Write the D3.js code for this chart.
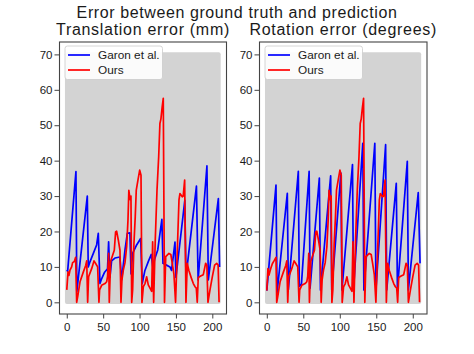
<!DOCTYPE html>
<html>
<head>
<meta charset="utf-8">
<script src="https://cdn.jsdelivr.net/npm/d3@7"></script>
<style>
  body { margin: 0; background: #fff; }
  text { font-family: "Liberation Sans", Arial, sans-serif; fill: #1a1a1a; }
</style>
</head>
<body>
<svg id="chart"></svg>
<script>
// values (frame index, error)
const transGaronX = [0, 1.2, 12.6, 13.8, 28.2, 29.5, 32, 36.5, 41, 43.3, 45.6, 48, 52, 56, 57.5, 59.3, 61.6, 66.2, 73, 75.4, 80, 83.2, 86.8, 88.3, 90.5, 96, 101.5, 103.7, 107.4, 112, 116, 118.5, 120.5, 125, 130.7, 132.2, 137, 141.8, 144, 148.7, 150, 162.2, 163.8, 178.2, 180.5, 192.6, 194.5, 208.3, 210];
const transGaronY = [9.1, 8.8, 36.9, 3, 30, 10, 11.5, 13.8, 16.2, 19.5, 5.3, 6.7, 8.5, 9.5, 17.1, 7, 11.7, 12.5, 12.8, 6.3, 14.8, 19.5, 19.6, 8, 13.8, 16.2, 18, 5.3, 9, 11.5, 13.5, 9.5, 12, 14.8, 23.4, 11, 10.5, 10, 9, 17, 7, 28.8, 7.2, 32.8, 6.3, 38.5, 6.3, 29.3, 10];

const transOursX = [0, 1.7, 3, 4.4, 6.7, 8, 10.4, 12.2, 13.6, 15, 18.2, 22.8, 26, 27.4, 28.7, 30, 34.2, 37.4, 40.1, 42.4, 44.2, 45.1, 47.9, 52.5, 54.8, 56.1, 57.5, 58.4, 60.2, 63, 65.3, 67.1, 68.5, 70.8, 73.1, 74.5, 75.8, 77.7, 80, 82.3, 84.1, 85.3, 87, 88.2, 89.2, 90.5, 92.3, 94.1, 95.5, 97.8, 100.2, 102, 103.3, 105.2, 107.5, 109.8, 112, 114.4, 116.7, 118, 119.4, 121.6, 124, 126.3, 128, 129.4, 131, 132.6, 134.3, 136, 140.4, 143, 145, 147.3, 149.5, 154.2, 155.5, 158.7, 160, 162, 163.8, 165.6, 167.8, 171.1, 173.9, 176.2, 178, 179.3, 180.7, 184, 187.6, 190.8, 192.5, 194, 196.8, 200, 203.2, 206, 208, 209.3];
const transOursY = [3.5, 8.6, 7.6, 9.1, 10, 11.2, 11.5, 12.7, 0, 1.6, 5.8, 8.6, 10.4, 11.7, 0, 7.2, 9.5, 11.7, 10.8, 10, 0, 3.5, 4.8, 5.3, 5.8, 7.4, 13.8, 0, 11.5, 13.3, 14.7, 19.9, 20.1, 17.6, 14.7, 0, 6.3, 9.1, 11.2, 15.7, 23.2, 31.6, 29, 30, 0, 3.5, 16.6, 24.2, 31.7, 34.5, 37.3, 35.9, 0, 4.4, 5.3, 7.2, 4.9, 4, 3.1, 17.1, 0, 17.6, 31.7, 41.1, 50.5, 51.8, 55, 57.6, 0, 12.9, 13.8, 13.5, 11, 7.8, 0, 28.9, 30.7, 29.8, 30, 34.5, 0, 11, 9, 6.9, 5.3, 4.4, 4, 0, 7, 7.4, 7.8, 11, 10.5, 0, 3.5, 7.2, 10.5, 11, 10.5, 0];

const rotGaronX = [0, 12.6, 14, 28.1, 29.5, 43.2, 44.5, 47.5, 58, 59.3, 72, 73.5, 87.5, 89, 101.5, 103, 117.4, 118.8, 131.5, 133, 148, 149.5, 162.8, 164.3, 177.4, 179, 192.5, 194, 207.5, 210];
const rotGaronY = [3.3, 33.1, 2.5, 30.8, 3.5, 37, 4.5, 5.2, 37, 4, 35.1, 3.5, 35.7, 3.5, 36.5, 3.5, 38.9, 3.5, 44.9, 3.5, 44.9, 3.5, 44.5, 3.5, 33.6, 3.5, 39.8, 3.5, 31, 11];

const rotOursX = [0, 1.6, 3, 5.3, 7.6, 9.9, 12.6, 13.6, 15, 18.2, 22.8, 26, 27.4, 28.7, 30, 34.2, 37.4, 40.1, 42.4, 44.2, 45.1, 47.9, 52.5, 54.8, 56.1, 57.5, 58.4, 60.2, 63, 65.3, 67.1, 68.5, 70.8, 73.1, 74.5, 75.8, 77.7, 80, 82.3, 84.1, 85.3, 87, 88.2, 89.2, 90.5, 92.3, 94.1, 95.5, 97.8, 100.2, 102, 103.3, 105.2, 107.5, 109.8, 112, 114.4, 116.7, 118, 119.4, 121.6, 124, 126.3, 128, 129.4, 131, 132.6, 134.3, 136, 140.4, 143, 145, 147.3, 149.5, 154.2, 155.5, 158.7, 160, 162, 163.8, 165.6, 167.8, 171.1, 173.9, 176.2, 178, 179.3, 180.7, 184, 187.6, 190.8, 192.5, 194, 196.8, 200, 203.2, 206, 208, 209.3];
const rotOursY = [3.3, 9.5, 7.7, 9.5, 10.9, 11.7, 12.7, 0, 1.6, 5.8, 8.6, 10.4, 11.7, 0, 7.2, 9.5, 11.7, 10.8, 10, 0, 3.5, 4.8, 5.3, 5.8, 7.4, 13.8, 0, 11.5, 13.3, 14.7, 19.9, 20.1, 17.6, 14.7, 0, 6.3, 9.1, 11.2, 15.7, 23.2, 31.6, 29, 30, 0, 3.5, 16.6, 24.2, 31.7, 34.5, 37.3, 35.9, 0, 4.4, 5.3, 7.2, 4.9, 4, 3.1, 17.1, 0, 17.6, 31.7, 41.1, 50.5, 51.8, 55, 57.6, 0, 12.9, 13.8, 13.5, 11, 7.8, 0, 28.9, 30.7, 29.8, 30, 34.5, 0, 11, 9, 6.9, 5.3, 4.4, 4, 0, 7, 7.4, 7.8, 11, 10.5, 0, 3.5, 7.2, 10.5, 11, 10.5, 0];

const xTicks = [0, 50, 100, 150, 200];
const yTicks = [0, 10, 20, 30, 40, 50, 60, 70];
const seriesNames = ["Garon et al.", "Ours"];
const seriesColors = ["#0000ff", "#ff0000"];

const W = 474, H = 354;
const svg = d3.select("#chart").attr("width", W).attr("height", H);

const y = d3.scaleLinear().domain([-3.3, 73.5]).range([314, 42]);

svg.append("text")
  .attr("x", 237).attr("y", 18)
  .attr("text-anchor", "middle")
  .style("font-size", "16px").style("letter-spacing", "0.6px")
  .text("Error between ground truth and prediction");

const panels = [
  { title: "Translation error (mm)", left: 59.5, right: 226.5, series: [[transGaronX, transGaronY], [transOursX, transOursY]] },
  { title: "Rotation error (degrees)", left: 259.5, right: 427, series: [[rotGaronX, rotGaronY], [rotOursX, rotOursY]] }
];

panels.forEach(p => {
  const x = d3.scaleLinear().domain([-10, 219.5]).range([p.left, p.right]);
  const g = svg.append("g");

  // grey backdrop
  g.append("rect")
    .attr("x", x(-2.5)).attr("y", y(70.6))
    .attr("width", x(211.5) - x(-2.5)).attr("height", y(-0.5) - y(70.6))
    .attr("rx", 2)
    .attr("fill", "#d3d3d3");

  const line = d3.line().x(d => x(d[0])).y(d => y(d[1]));
  p.series.forEach((s, i) => {
    g.append("path")
      .datum(d3.zip(s[0], s[1]))
      .attr("d", line)
      .attr("fill", "none")
      .attr("stroke", seriesColors[i])
      .attr("stroke-width", 1.7)
      .attr("stroke-linejoin", "round");
  });

  // frame
  g.append("rect")
    .attr("x", p.left).attr("y", 42)
    .attr("width", p.right - p.left).attr("height", 272)
    .attr("fill", "none").attr("stroke", "#444").attr("stroke-width", 1.1);

  const xa = g.append("g").attr("transform", "translate(0,314)")
    .call(d3.axisBottom(x).tickValues(xTicks).tickSize(4.5).tickPadding(4));
  const ya = g.append("g").attr("transform", `translate(${p.left},0)`)
    .call(d3.axisLeft(y).tickValues(yTicks).tickSize(5).tickPadding(2));
  [xa, ya].forEach(a => {
    a.select(".domain").remove();
    a.selectAll("line").attr("stroke", "#444");
    a.selectAll("text").style("font-size", "11.5px")
      .style("font-family", '"Liberation Sans", Arial, sans-serif').attr("fill", "#1a1a1a");
  });

  // subtitle
  g.append("text")
    .attr("x", (p.left + p.right) / 2).attr("y", 35)
    .attr("text-anchor", "middle")
    .style("font-size", "16px").style("letter-spacing", "0.7px")
    .text(p.title);

  // legend
  const lg = g.append("g").attr("transform", `translate(${p.left + 5.5},46)`);
  lg.append("rect")
    .attr("width", 97.5).attr("height", 33.5).attr("rx", 2.5)
    .attr("fill", "#fff").attr("fill-opacity", 0.9)
    .attr("stroke", "#ccc").attr("stroke-width", 0.8);
  seriesNames.forEach((n, i) => {
    lg.append("line")
      .attr("x1", 3).attr("x2", 25).attr("y1", 9 + i * 15).attr("y2", 9 + i * 15)
      .attr("stroke", seriesColors[i]).attr("stroke-width", 1.7);
    lg.append("text")
      .attr("x", 33).attr("y", 13 + i * 15)
      .style("font-size", "11.8px")
      .text(n);
  });
});
</script>
</body>
</html>
